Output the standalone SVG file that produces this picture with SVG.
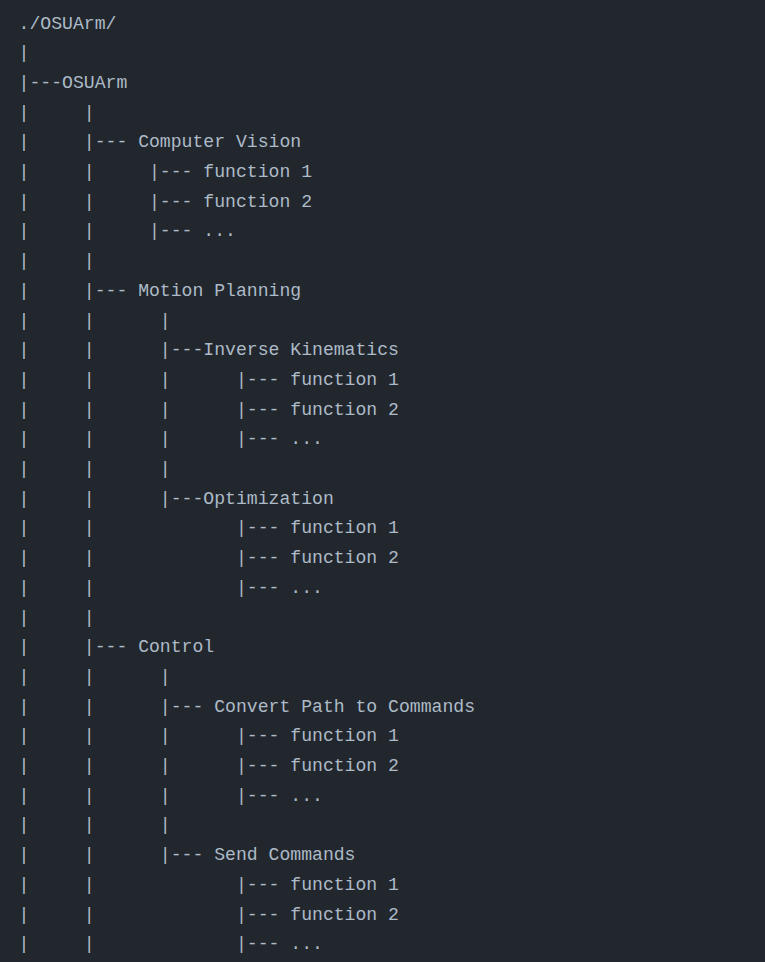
<svg xmlns="http://www.w3.org/2000/svg" width="765" height="962" viewBox="0 0 765 962">
<style>
text{font-family:"Liberation Mono","DejaVu Sans Mono",monospace;font-size:18.13px;fill:#adbac7;white-space:pre}
</style>
<rect x="0" y="0" width="765" height="962" fill="#22272e"/>
<g id="tree" xml:space="preserve" transform="translate(0,-1.5)">
<text x="18.6" y="30">./OSUArm/</text>
<text x="18.6" y="59.7">|</text>
<text x="18.6" y="89.4">|---OSUArm</text>
<text x="18.6" y="119.1">|     |</text>
<text x="18.6" y="148.8">|     |--- Computer Vision</text>
<text x="18.6" y="178.5">|     |     |--- function 1</text>
<text x="18.6" y="208.2">|     |     |--- function 2</text>
<text x="18.6" y="237.9">|     |     |--- ...</text>
<text x="18.6" y="267.6">|     |</text>
<text x="18.6" y="297.3">|     |--- Motion Planning</text>
<text x="18.6" y="327">|     |      |</text>
<text x="18.6" y="356.7">|     |      |---Inverse Kinematics</text>
<text x="18.6" y="386.4">|     |      |      |--- function 1</text>
<text x="18.6" y="416.1">|     |      |      |--- function 2</text>
<text x="18.6" y="445.8">|     |      |      |--- ...</text>
<text x="18.6" y="475.5">|     |      |</text>
<text x="18.6" y="505.2">|     |      |---Optimization</text>
<text x="18.6" y="534.9">|     |             |--- function 1</text>
<text x="18.6" y="564.6">|     |             |--- function 2</text>
<text x="18.6" y="594.3">|     |             |--- ...</text>
<text x="18.6" y="624">|     |</text>
<text x="18.6" y="653.7">|     |--- Control</text>
<text x="18.6" y="683.4">|     |      |</text>
<text x="18.6" y="713.1">|     |      |--- Convert Path to Commands</text>
<text x="18.6" y="742.8">|     |      |      |--- function 1</text>
<text x="18.6" y="772.5">|     |      |      |--- function 2</text>
<text x="18.6" y="802.2">|     |      |      |--- ...</text>
<text x="18.6" y="831.9">|     |      |</text>
<text x="18.6" y="861.6">|     |      |--- Send Commands</text>
<text x="18.6" y="891.3">|     |             |--- function 1</text>
<text x="18.6" y="921">|     |             |--- function 2</text>
<text x="18.6" y="950.7">|     |             |--- ...</text>
</g>
</svg>
